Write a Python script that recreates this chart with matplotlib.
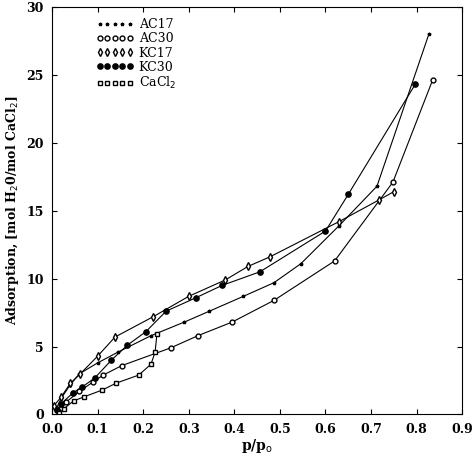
import matplotlib
matplotlib.use("Agg")
import matplotlib.pyplot as plt
from matplotlib.lines import Line2D

ac17_x=[0.01,0.02,0.04,0.06,0.10,0.145,0.217,0.29,0.345,0.42,0.487,0.546,0.63,0.713,0.827]
ac17_y=[0.5,1.2,2.2,3.0,3.8,4.6,5.8,6.8,7.6,8.7,9.7,11.1,13.9,16.8,28.0]
ac30_x=[0.01,0.03,0.06,0.09,0.112,0.153,0.26,0.32,0.395,0.487,0.62,0.748,0.835]
ac30_y=[0.3,0.9,1.7,2.4,2.9,3.6,4.9,5.8,6.8,8.4,11.3,17.1,24.6]
kc17_x=[0.003,0.02,0.04,0.062,0.10,0.138,0.222,0.30,0.38,0.43,0.478,0.63,0.718,0.75]
kc17_y=[0.6,1.3,2.3,3.0,4.3,5.7,7.2,8.7,9.9,10.9,11.6,14.2,15.8,16.4]
kc30_x=[0.01,0.02,0.046,0.065,0.094,0.13,0.165,0.206,0.25,0.316,0.373,0.456,0.60,0.65,0.797]
kc30_y=[0.3,0.8,1.6,2.0,2.7,4.0,5.1,6.1,7.6,8.6,9.5,10.5,13.5,16.2,24.3]
cacl_x=[0.015,0.025,0.047,0.07,0.11,0.14,0.19,0.217,0.226,0.23]
cacl_y=[0.1,0.4,1.0,1.3,1.8,2.3,2.9,3.7,4.6,5.9]

plt.rcParams['font.family']='DejaVu Serif'
fig=plt.figure(figsize=(4.74,4.58),dpi=100)
ax=fig.add_axes([0.11,0.095,0.865,0.89])
k=dict(color='black',lw=0.8)
ax.plot(ac17_x,ac17_y,marker='*',ms=2.5,**k)
ax.plot(ac30_x,ac30_y,marker='o',ms=3.5,mfc='white',**k)
ax.plot(kc17_x,kc17_y,marker='d',ms=4,mfc='white',**k)
ax.plot(kc30_x,kc30_y,marker='o',ms=3.8,**k)
ax.plot(cacl_x,cacl_y,marker='s',ms=3,mfc='white',**k)
ax.set_xlim(0,0.9); ax.set_ylim(0,30)
ax.set_xticks([i/10 for i in range(10)])
ax.set_xticklabels(['0.0']+[f'{i/10:.1f}' for i in range(1,10)])
ax.set_yticks(range(0,31,5))
ax.tick_params(direction='in',labelsize=9,top=True,right=True)
ax.tick_params(axis='y',pad=6)
ax.tick_params(axis='x',pad=6)
for l in ax.get_xticklabels()+ax.get_yticklabels(): l.set_fontweight('bold')
ax.set_xlabel('p/p$_\\mathrm{o}$',fontsize=10,fontweight='bold',labelpad=1)
ax.set_ylabel('Adsorption, [mol H$_2$0/mol CaCl$_2$]',fontsize=9,fontweight='bold')
h=[Line2D([],[],ls='none',marker='*',ms=2.5,color='k'),
   Line2D([],[],ls='none',marker='o',ms=3.5,mfc='white',color='k'),
   Line2D([],[],ls='none',marker='d',ms=4,mfc='white',color='k'),
   Line2D([],[],ls='none',marker='o',ms=3.8,color='k'),
   Line2D([],[],ls='none',marker='s',ms=3,mfc='white',color='k')]
leg=ax.legend(h,['AC17','AC30','KC17','KC30','CaCl$_2$'],numpoints=5,loc='upper left',
   bbox_to_anchor=(0.08,1.0),frameon=False,fontsize=9,handlelength=3,labelspacing=0.1,handletextpad=0.4)
fig.savefig('out.png')
